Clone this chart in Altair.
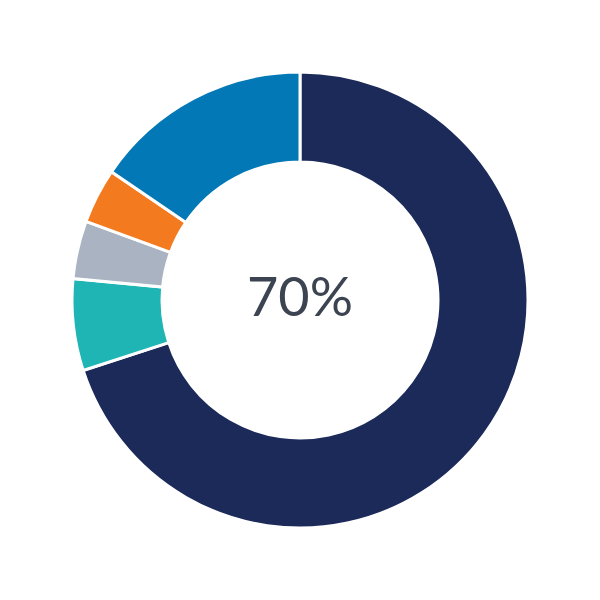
import altair as alt
import pandas as pd

categories = ["A", "B", "C", "D", "E"]
values = [70, 6.5, 4.1, 3.9, 15.5]
colors = ["#1c2a5a", "#20b5b5", "#a9b3c1", "#f47a20", "#0378b7"]
center_label = "70%"

df = pd.DataFrame({"cat": categories, "val": values, "ord": list(range(len(categories)))})

arc = alt.Chart(df).mark_arc(innerRadius=138, outerRadius=228, stroke="white", strokeWidth=3).encode(
    theta=alt.Theta("val:Q", stack=True),
    color=alt.Color("cat:N", scale=alt.Scale(domain=categories, range=colors), legend=None),
    order=alt.Order("ord:Q"),
)

text = alt.Chart(pd.DataFrame({"t": [center_label]})).mark_text(
    font="Lato", fontSize=54, color="#3b4450", baseline="middle", align="center"
).encode(text="t:N", x=alt.value(292), y=alt.value(292))

chart = alt.layer(arc, text).properties(
    width=584, height=584, padding=0, autosize=alt.AutoSizeParams(type="none")
).configure_view(stroke=None)

chart.save("out.html", embed_options={"renderer": "svg", "actions": False})
